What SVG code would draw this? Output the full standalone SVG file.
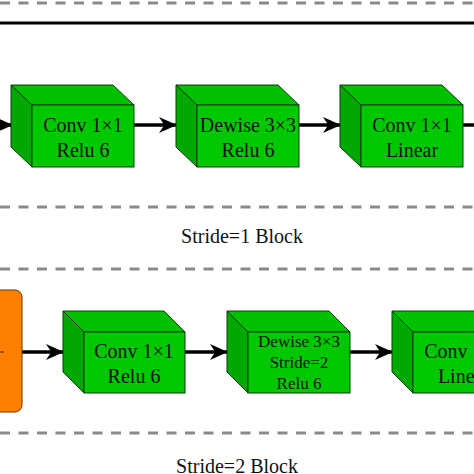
<svg xmlns="http://www.w3.org/2000/svg" width="474" height="474" viewBox="0 0 474 474">
<style>
.front{fill:#00c800;stroke:#0b3d0b;stroke-width:1}
.top{fill:#00c000;stroke:#0b3d0b;stroke-width:1}
.side{fill:#00a800;stroke:#0b3d0b;stroke-width:1}
.lbl{font-family:"Liberation Serif","Times New Roman",serif;font-size:20px;fill:#111;text-anchor:middle}
.lbl2{font-family:"Liberation Serif","Times New Roman",serif;font-size:17px;fill:#111;text-anchor:middle}
.cap{font-family:"Liberation Serif","Times New Roman",serif;font-size:20px;fill:#111;text-anchor:middle}
.dash{stroke:#8a8a8a;stroke-width:3;stroke-dasharray:10 8.5;fill:none}
.conn{stroke:#000;stroke-width:3.5;fill:none}
</style>
<defs>
<marker id="ah" markerUnits="userSpaceOnUse" markerWidth="18" markerHeight="18" viewBox="0 0 20 20" refX="19" refY="10" orient="auto">
<path d="M0,1 L20,10 L0,19 L6,10 Z" fill="#000"/>
</marker>
</defs>
<rect width="474" height="474" fill="#fff"/>
<line class="dash" x1="0" y1="3" x2="474" y2="3"/>
<line x1="0" y1="23" x2="474" y2="23" stroke="#000" stroke-width="3"/>
<line class="dash" x1="0" y1="207" x2="474" y2="207"/>
<line class="dash" x1="0" y1="269" x2="474" y2="269"/>
<line class="dash" x1="0" y1="433" x2="474" y2="433"/>
<text class="cap" x="242" y="243">Stride=1 Block</text>
<text class="cap" x="237" y="473">Stride=2 Block</text>

<g id="connectors">
<line class="conn" x1="-2" y1="125" x2="12" y2="125" marker-end="url(#ah)"/>
<line class="conn" x1="134" y1="125" x2="176" y2="125" marker-end="url(#ah)"/>
<line class="conn" x1="298" y1="125" x2="340" y2="125" marker-end="url(#ah)"/>
<line class="conn" x1="463" y1="125" x2="476" y2="125"/>
<line class="conn" x1="22" y1="352" x2="63" y2="352" marker-end="url(#ah)"/>
<line class="conn" x1="185" y1="352" x2="227" y2="352" marker-end="url(#ah)"/>
<line class="conn" x1="350" y1="352" x2="392" y2="352" marker-end="url(#ah)"/>
</g>

<g id="input">
<rect x="-10" y="290" width="32" height="122" rx="7" fill="#ff8000" stroke="#6b3500" stroke-width="1"/>
<line x1="0" y1="352" x2="4" y2="352" stroke="#6b3500" stroke-width="1.2"/>
</g>

<g id="s1-conv1">
<polygon class="top" points="11,85 113,85 134,105 32,105"/>
<polygon class="side" points="11,85 32,105 32,167 11,147"/>
<rect class="front" x="32" y="105" width="102" height="62"/>
<text class="lbl" x="83" y="132">Conv 1×1</text>
<text class="lbl" x="83" y="157">Relu 6</text>
</g>
<g id="s1-dw">
<polygon class="top" points="176,85 278,85 299,105 197,105"/>
<polygon class="side" points="176,85 197,105 197,167 176,147"/>
<rect class="front" x="197" y="105" width="102" height="62"/>
<text class="lbl" x="248" y="132">Dewise 3×3</text>
<text class="lbl" x="248" y="157">Relu 6</text>
</g>
<g id="s1-conv2">
<polygon class="top" points="340,85 442,85 463,105 361,105"/>
<polygon class="side" points="340,85 361,105 361,167 340,147"/>
<rect class="front" x="361" y="105" width="102" height="62"/>
<text class="lbl" x="412" y="132">Conv 1×1</text>
<text class="lbl" x="412" y="157">Linear</text>
</g>

<g id="s2-conv1">
<polygon class="top" points="63,311 164,311 185,332 84,332"/>
<polygon class="side" points="63,311 84,332 84,393 63,372"/>
<rect class="front" x="84" y="332" width="101" height="61"/>
<text class="lbl" x="134" y="358">Conv 1×1</text>
<text class="lbl" x="134" y="383">Relu 6</text>
</g>
<g id="s2-dw">
<polygon class="top" points="227,311 329,311 350,332 248,332"/>
<polygon class="side" points="227,311 248,332 248,393 227,372"/>
<rect class="front" x="248" y="332" width="102" height="61"/>
<text class="lbl2" x="299" y="347">Dewise 3×3</text>
<text class="lbl2" x="299" y="368">Stride=2</text>
<text class="lbl2" x="299" y="389">Relu 6</text>
</g>
<g id="s2-conv2">
<polygon class="top" points="392,311 494,311 515,332 413,332"/>
<polygon class="side" points="392,311 413,332 413,393 392,372"/>
<rect class="front" x="413" y="332" width="102" height="61"/>
<text class="lbl" x="464" y="358">Conv 1×1</text>
<text class="lbl" x="464" y="383">Linear</text>
</g>
</svg>
